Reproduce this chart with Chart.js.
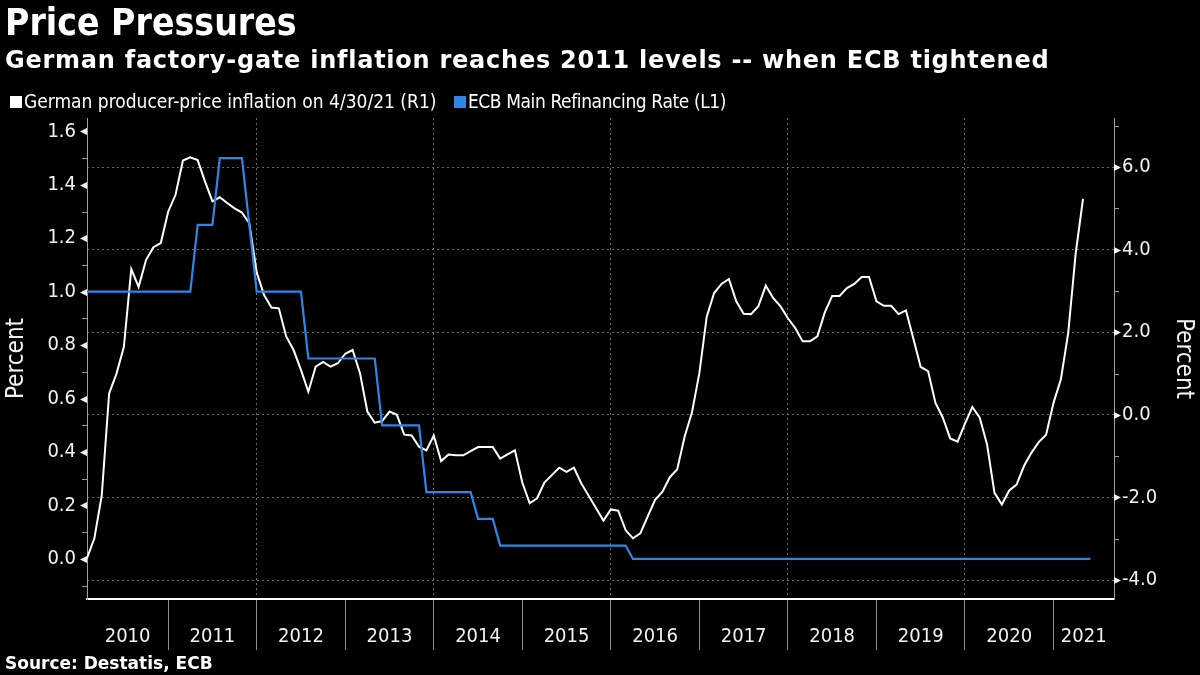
<!DOCTYPE html>
<html>
<head>
<meta charset="utf-8">
<title>Price Pressures</title>
<script src="https://cdn.jsdelivr.net/npm/chart.js@4.4.1/dist/chart.umd.min.js"></script>
<style>
    html, body { margin: 0; padding: 0; background: #000; }
    body {
        width: 1200px; height: 675px; position: relative; overflow: hidden;
        font-family: 'DejaVu Sans Condensed', 'DejaVu Sans', sans-serif; color: #fff;
    }
    #chart { position: absolute; left: 0; top: 0; }
    .title { position: absolute; left: 5px; top: 4px; font-size: 37px; font-weight: bold; line-height: 37px; }
    .subtitle {
        position: absolute; left: 5px; top: 47px; font-family: 'DejaVu Sans', sans-serif;
        font-size: 24px; font-weight: bold; line-height: 26px; letter-spacing: 0.75px; white-space: nowrap;
    }
    .legend { position: absolute; left: 10px; top: 89px; font-size: 19px; line-height: 24px; white-space: nowrap; }
    .legend .item { margin-right: 12px; }
    .legend .item + .item { letter-spacing: -0.4px; }
    .swatch { display: inline-block; width: 12px; height: 12px; margin-right: 2px; vertical-align: 0px; }
    .source {
        position: absolute; left: 5px; top: 653px; font-family: 'DejaVu Sans', sans-serif;
        font-size: 17px; font-weight: bold; line-height: 20px;
    }
</style>
</head>
<body>
<canvas id="chart" width="1200" height="675"></canvas>
<div class="title">Price Pressures</div>
<div class="subtitle">German factory-gate inflation reaches 2011 levels -- when ECB tightened</div>
<div class="legend">
    <span class="item"><span class="swatch" style="background:#ffffff"></span>German producer-price inflation on 4/30/21 (R1)</span>
    <span class="item"><span class="swatch" style="background:#2f86e8"></span>ECB Main Refinancing Rate (L1)</span>
</div>
<div class="source">Source: Destatis, ECB</div>

<script>
// Month-end observations from Jan 2010 (x = month index, 0 = Jan 2010)
const yearLabels = ['2010', '2011', '2012', '2013', '2014', '2015', '2016', '2017', '2018', '2019', '2020', '2021'];
const leftTicks = [0.0, 0.2, 0.4, 0.6, 0.8, 1.0, 1.2, 1.4, 1.6];
const rightTicks = [-4.0, -2.0, 0.0, 2.0, 4.0, 6.0];

// German producer-price inflation, % y/y (right axis), Jan 2010 .. Apr 2021
const ppi = [
    -3.47, -2.99, -1.95, 0.52, 1.0, 1.65, 3.53, 3.1, 3.75, 4.06, 4.16, 4.92,      // 2010
    5.33, 6.16, 6.24, 6.17, 5.65, 5.17, 5.27, 5.13, 5.0, 4.9, 4.64, 3.45,          // 2011
    2.9, 2.6, 2.58, 1.9, 1.57, 1.09, 0.56, 1.17, 1.28, 1.17, 1.25, 1.48,           // 2012
    1.57, 1.01, 0.08, -0.19, -0.15, 0.08, 0.0, -0.48, -0.5, -0.77, -0.86, -0.5,    // 2013
    -1.12, -0.96, -0.98, -0.98, -0.88, -0.78, -0.78, -0.78, -1.06, -0.96, -0.86, -1.64, // 2014
    -2.14, -2.02, -1.64, -1.46, -1.28, -1.38, -1.28, -1.66, -1.96, -2.26, -2.56, -2.29, // 2015
    -2.32, -2.79, -2.99, -2.87, -2.46, -2.06, -1.86, -1.51, -1.32, -0.53, 0.06, 1.01,   // 2016
    2.38, 2.95, 3.17, 3.29, 2.75, 2.45, 2.44, 2.63, 3.13, 2.83, 2.63, 2.34,        // 2017
    2.1, 1.78, 1.78, 1.9, 2.48, 2.88, 2.88, 3.07, 3.17, 3.34, 3.34, 2.75,          // 2018
    2.64, 2.64, 2.44, 2.53, 1.85, 1.16, 1.06, 0.29, -0.07, -0.57, -0.65, -0.21,    // 2019
    0.19, -0.07, -0.72, -1.89, -2.17, -1.83, -1.69, -1.24, -0.92, -0.66, -0.48, 0.29, // 2020
    0.86, 1.99, 3.9, 5.23                                                            // 2021
];

// ECB main refinancing rate, % (left axis), Jan 2010 .. May 2021
const ecbRate = [
    1, 1, 1, 1, 1, 1, 1, 1, 1, 1, 1, 1,                                  // 2010
    1, 1, 1, 1.25, 1.25, 1.25, 1.5, 1.5, 1.5, 1.5, 1.25, 1,              // 2011
    1, 1, 1, 1, 1, 1, 0.75, 0.75, 0.75, 0.75, 0.75, 0.75,                // 2012
    0.75, 0.75, 0.75, 0.75, 0.5, 0.5, 0.5, 0.5, 0.5, 0.5, 0.25, 0.25,    // 2013
    0.25, 0.25, 0.25, 0.25, 0.25, 0.15, 0.15, 0.15, 0.05, 0.05, 0.05, 0.05, // 2014
    0.05, 0.05, 0.05, 0.05, 0.05, 0.05, 0.05, 0.05, 0.05, 0.05, 0.05, 0.05, // 2015
    0.05, 0.05, 0, 0, 0, 0, 0, 0, 0, 0, 0, 0,                             // 2016
    0, 0, 0, 0, 0, 0, 0, 0, 0, 0, 0, 0,                                   // 2017
    0, 0, 0, 0, 0, 0, 0, 0, 0, 0, 0, 0,                                   // 2018
    0, 0, 0, 0, 0, 0, 0, 0, 0, 0, 0, 0,                                   // 2019
    0, 0, 0, 0, 0, 0, 0, 0, 0, 0, 0, 0,                                   // 2020
    0, 0, 0, 0, 0                                                          // 2021
];

// Axis ranges
const X_MAX = 139.2;
const LEFT_MIN = -0.15, LEFT_MAX = 1.65;
const RIGHT_MIN = -4.46, RIGHT_MAX = 7.19;

// year boundaries (last month-end of previous year) and label centres
const yearBounds = yearLabels.slice(1).map((y, k) => 12 * (k + 1) - 1);
const yearCenters = yearLabels.map((y, k) => {
    const a = k === 0 ? 0 : 12 * k - 1;
    const b = k === yearLabels.length - 1 ? X_MAX : 12 * (k + 1) - 1;
    return (a + b) / 2;
});
const gridYears = ['2012', '2014', '2016', '2018', '2020'];

const FONT = "'DejaVu Sans Condensed', 'DejaVu Sans', sans-serif";
Chart.defaults.font.family = FONT;
Chart.defaults.color = '#f2f2f2';

function isBound(v) { return yearBounds.some(b => Math.abs(b - v) < 1e-6); }

// little triangles on the major ticks and short minor ticks in between
const axisMarks = {
    id: 'axisMarks',
    afterDraw(chart) {
        const ctx = chart.ctx;
        const yL = chart.scales.yL, yR = chart.scales.yR;
        ctx.save();
        ctx.fillStyle = '#f2f2f2';
        ctx.strokeStyle = '#9a9a9a';
        ctx.lineWidth = 1;
        for (let k = -1; k <= 16; k++) {
            const y = Math.round(yL.getPixelForValue(k / 10)) + 0.5;
            const x = yL.right;
            if (k % 2 === 0) {
                ctx.beginPath();
                ctx.moveTo(x, y - 3.5); ctx.lineTo(x, y + 3.5); ctx.lineTo(x - 7, y);
                ctx.closePath(); ctx.fill();
            } else {
                ctx.beginPath(); ctx.moveTo(x - 5, y); ctx.lineTo(x, y); ctx.stroke();
            }
        }
        for (let v = -4; v <= 7; v++) {
            const y = Math.round(yR.getPixelForValue(v)) + 0.5;
            const x = yR.left;
            if (v % 2 === 0) {
                ctx.beginPath();
                ctx.moveTo(x, y - 3.5); ctx.lineTo(x, y + 3.5); ctx.lineTo(x + 7, y);
                ctx.closePath(); ctx.fill();
            } else {
                ctx.beginPath(); ctx.moveTo(x, y); ctx.lineTo(x + 5, y); ctx.stroke();
            }
        }
        ctx.restore();
    }
};

const chart = new Chart(document.getElementById('chart'), {
    type: 'line',
    data: {
        datasets: [
            {
                label: 'ECB Main Refinancing Rate (L1)',
                data: ecbRate.map((v, i) => ({ x: i, y: v })),
                yAxisID: 'yL',
                borderColor: '#2f86e8',
                borderWidth: 2.2,
                pointRadius: 0,
                tension: 0,
                order: 1
            },
            {
                label: 'German producer-price inflation on 4/30/21 (R1)',
                data: ppi.map((v, i) => ({ x: i, y: v })),
                yAxisID: 'yR',
                borderColor: '#ffffff',
                borderWidth: 2,
                pointRadius: 0,
                tension: 0,
                order: 2
            }
        ]
    },
    options: {
        responsive: false,
        animation: false,
        devicePixelRatio: 1,
        layout: { padding: { top: 118, left: 0, right: 0, bottom: 0 } },
        plugins: {
            legend: { display: false },
            tooltip: { enabled: false }
        },
        scales: {
            x: {
                type: 'linear',
                min: 0,
                max: X_MAX,
                afterBuildTicks: (scale) => {
                    scale.ticks = [...yearBounds, ...yearCenters]
                        .sort((a, b) => a - b)
                        .map(v => ({ value: v }));
                },
                afterFit: (scale) => { scale.height = 76; },
                ticks: {
                    autoSkip: false,
                    maxRotation: 0,
                    padding: -25,
                    font: { size: 20 },
                    color: '#f2f2f2',
                    callback: (value) => {
                        const k = yearCenters.findIndex(c => Math.abs(c - value) < 1e-6);
                        return k >= 0 ? yearLabels[k] : '';
                    }
                },
                grid: {
                    drawTicks: true,
                    tickLength: 51,
                    lineWidth: 1,
                    color: (ctx) => {
                        const v = ctx.tick ? ctx.tick.value : null;
                        const k = yearBounds.findIndex(b => Math.abs(b - v) < 1e-6);
                        return k >= 0 && gridYears.includes(yearLabels[k + 1]) ? '#6a6a6a' : 'transparent';
                    },
                    tickColor: (ctx) => (ctx.tick && isBound(ctx.tick.value)) ? '#8c8c8c' : 'transparent'
                },
                border: { display: true, color: '#ffffff', width: 2, dash: [2, 3] }
            },
            yL: {
                type: 'linear',
                position: 'left',
                min: LEFT_MIN,
                max: LEFT_MAX,
                afterBuildTicks: (scale) => {
                    scale.ticks = leftTicks.map(v => ({ value: v }));
                },
                afterFit: (scale) => { scale.width = 87; },
                ticks: {
                    autoSkip: false,
                    padding: 11,
                    font: { size: 20 },
                    color: '#f2f2f2',
                    callback: (v) => Number(v).toFixed(1)
                },
                grid: { display: false, drawTicks: false },
                border: { display: true, color: '#a0a0a0', width: 1 },
                title: {
                    display: true,
                    text: 'Percent',
                    color: '#f2f2f2',
                    font: { size: 24 },
                    padding: { top: 2, bottom: 0 }
                }
            },
            yR: {
                type: 'linear',
                position: 'right',
                min: RIGHT_MIN,
                max: RIGHT_MAX,
                afterBuildTicks: (scale) => {
                    scale.ticks = rightTicks.map(v => ({ value: v }));
                },
                afterFit: (scale) => { scale.width = 86; },
                ticks: {
                    autoSkip: false,
                    padding: 8,
                    font: { size: 20 },
                    color: '#f2f2f2',
                    callback: (v) => Number(v).toFixed(1)
                },
                grid: {
                    drawTicks: false,
                    lineWidth: 1,
                    color: '#6a6a6a'
                },
                border: { display: true, color: '#a0a0a0', width: 1, dash: [2, 3] },
                title: {
                    display: true,
                    text: 'Percent',
                    color: '#f2f2f2',
                    font: { size: 24 },
                    padding: { top: 2, bottom: 0 }
                }
            }
        }
    },
    plugins: [axisMarks]
});
</script>
</body>
</html>
